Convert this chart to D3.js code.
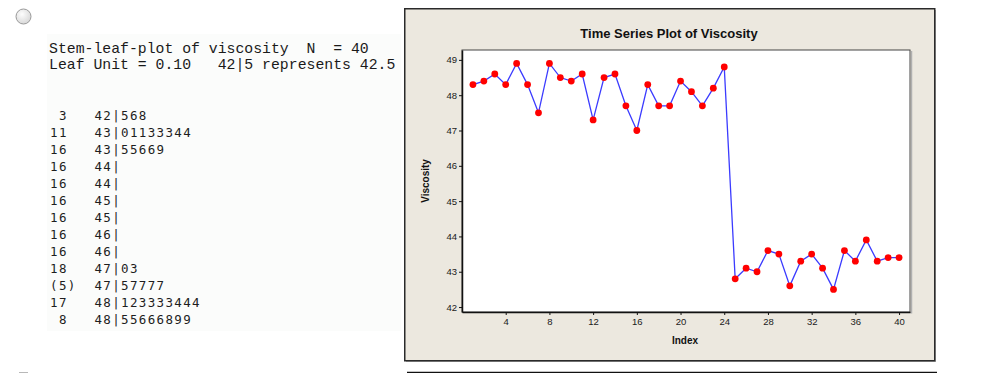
<!DOCTYPE html>
<html>
<head>
<meta charset="utf-8">
<script src="https://cdn.jsdelivr.net/npm/d3@7"></script>
<style>
  body { margin: 0; background: #fff; }
  svg { display: block; }
</style>
</head>
<body>
<div id="chart"></div>
<script>
// valeurs
const viscosity = [48.3, 48.4, 48.6, 48.3, 48.9, 48.3, 47.5, 48.9, 48.5, 48.4,
                   48.6, 47.3, 48.5, 48.6, 47.7, 47.0, 48.3, 47.7, 47.7, 48.4,
                   48.1, 47.7, 48.2, 48.8, 42.8, 43.1, 43.0, 43.6, 43.5, 42.6,
                   43.3, 43.5, 43.1, 42.5, 43.6, 43.3, 43.9, 43.3, 43.4, 43.4];
const xTicks = [4, 8, 12, 16, 20, 24, 28, 32, 36, 40];
const yTicks = [42, 43, 44, 45, 46, 47, 48, 49];

// texte du stem-and-leaf
const headerLines = ["Stem-leaf-plot of viscosity  N  = 40",
                     "Leaf Unit = 0.10   42|5 represents 42.5"];
const depths = [" 3", "11", "16", "16", "16", "16", "16", "16", "16", "18", "(5)", "17", " 8"];
const stems  = ["42", "43", "43", "44", "44", "45", "45", "46", "46", "47", "47", "48", "48"];
const leaves = ["568", "01133344", "55669", "", "", "", "", "", "", "03", "57777", "123333444", "55666899"];

const width = 1007, height = 373;
const plot = { left: 462, right: 910, top: 50, bottom: 312 };

const svg = d3.select("#chart").append("svg")
    .attr("width", width)
    .attr("height", height);

svg.append("rect").attr("width", width).attr("height", height).attr("fill", "#fff");

// bouton radio en haut a gauche
const grad = svg.append("defs").append("radialGradient")
    .attr("id", "radio").attr("cx", "40%").attr("cy", "35%").attr("r", "70%");
grad.append("stop").attr("offset", "0%").attr("stop-color", "#fdfdfd");
grad.append("stop").attr("offset", "100%").attr("stop-color", "#d6d6d6");
svg.append("circle").attr("cx", 23.5).attr("cy", 16.5).attr("r", 7.5)
    .attr("fill", "url(#radio)").attr("stroke", "#9a9a9a").attr("stroke-width", 1);
svg.append("line").attr("x1", 19).attr("x2", 28).attr("y1", 372.5).attr("y2", 372.5)
    .attr("stroke", "#b8b8b8").attr("stroke-width", 1);

// zone du texte
svg.append("rect").attr("x", 47).attr("y", 34).attr("width", 354).attr("height", 297)
    .attr("fill", "#fbfcfb");

svg.append("g")
    .style("font-family", "'Liberation Mono', 'Courier New', monospace")
    .style("font-size", "14.8px")
    .attr("fill", "#1a1a1a")
    .selectAll("text")
    .data(headerLines)
    .join("text")
    .attr("x", 49)
    .attr("y", (d, i) => 53 + i * 16)
    .attr("xml:space", "preserve")
    .style("white-space", "pre")
    .text(d => d);

svg.append("g")
    .style("font-family", "'DejaVu Sans Mono', monospace")
    .style("font-size", "12.5px")
    .attr("fill", "#1e1e1e")
    .selectAll("text")
    .data(stems)
    .join("text")
    .attr("x", 50)
    .attr("y", (d, i) => 120 + i * 17)
    .attr("xml:space", "preserve")
    .style("white-space", "pre")
    .style("letter-spacing", "1.35px")
    .text((d, i) => (depths[i].length === 3 ? depths[i] : depths[i] + " ") + "  " + d + "|" + leaves[i]);

// panneau du graphique
svg.append("rect").attr("x", 406).attr("y", 10).attr("width", 530).attr("height", 352)
    .attr("fill", "#b4b4b4");
svg.append("rect").attr("x", 404.75).attr("y", 8.75).attr("width", 530).attr("height", 352)
    .attr("fill", "#ece8df").attr("stroke", "#2a2a2a").attr("stroke-width", 1.5);
svg.append("line").attr("x1", 407).attr("x2", 937).attr("y1", 372.5).attr("y2", 372.5)
    .attr("stroke", "#111").attr("stroke-width", 1.5);

svg.append("text")
    .attr("x", 669).attr("y", 38)
    .attr("text-anchor", "middle")
    .style("font-family", "'Liberation Sans', Arial, sans-serif")
    .style("font-size", "13px")
    .style("font-weight", "bold")
    .attr("fill", "#111")
    .text("Time Series Plot of Viscosity");

// echelles
const x = d3.scaleLinear().domain([0, 41]).range([plot.left, plot.right]);
const y = d3.scaleLinear().domain([41.86, 49.28]).range([plot.bottom, plot.top]);

svg.append("rect")
    .attr("x", plot.left).attr("y", plot.top)
    .attr("width", plot.right - plot.left).attr("height", plot.bottom - plot.top)
    .attr("fill", "#fff").attr("stroke", "#444").attr("stroke-width", 1);
svg.append("line").attr("x1", plot.right + 1.5).attr("x2", plot.right + 1.5)
    .attr("y1", plot.top + 1).attr("y2", plot.bottom + 1.5)
    .attr("stroke", "#b0b0b0").attr("stroke-width", 1.5);

const xAxis = svg.append("g")
    .attr("transform", `translate(0, ${plot.bottom})`)
    .call(d3.axisBottom(x).tickValues(xTicks).tickSize(3).tickPadding(3).tickSizeOuter(0));
const yAxis = svg.append("g")
    .attr("transform", `translate(${plot.left}, 0)`)
    .call(d3.axisLeft(y).tickValues(yTicks).tickSize(3).tickPadding(2).tickSizeOuter(0));

[xAxis, yAxis].forEach(ax => {
    ax.select(".domain").attr("stroke", "#111").attr("stroke-width", 1.5);
    ax.selectAll(".tick line").attr("stroke", "#111");
    ax.selectAll(".tick text")
        .attr("fill", "#1a1a1a")
        .style("font-family", "'Liberation Sans', Arial, sans-serif")
        .style("font-size", "9.5px");
});

svg.append("text")
    .attr("x", 685).attr("y", 344)
    .attr("text-anchor", "middle")
    .style("font-family", "'Liberation Sans', Arial, sans-serif")
    .style("font-size", "10px").style("font-weight", "bold")
    .attr("fill", "#111")
    .text("Index");

svg.append("text")
    .attr("transform", "translate(429, 181) rotate(-90)")
    .attr("text-anchor", "middle")
    .style("font-family", "'Liberation Sans', Arial, sans-serif")
    .style("font-size", "10px").style("font-weight", "bold")
    .attr("fill", "#111")
    .text("Viscosity");

// serie
const line = d3.line().x((d, i) => x(i + 1)).y(d => y(d));
svg.append("path")
    .datum(viscosity)
    .attr("d", line)
    .attr("fill", "none")
    .attr("stroke", "#3b3bff")
    .attr("stroke-width", 1.3);

svg.append("g")
    .selectAll("circle")
    .data(viscosity)
    .join("circle")
    .attr("cx", (d, i) => x(i + 1))
    .attr("cy", d => y(d))
    .attr("r", 3.4)
    .attr("fill", "#ff0000");
</script>
</body>
</html>
